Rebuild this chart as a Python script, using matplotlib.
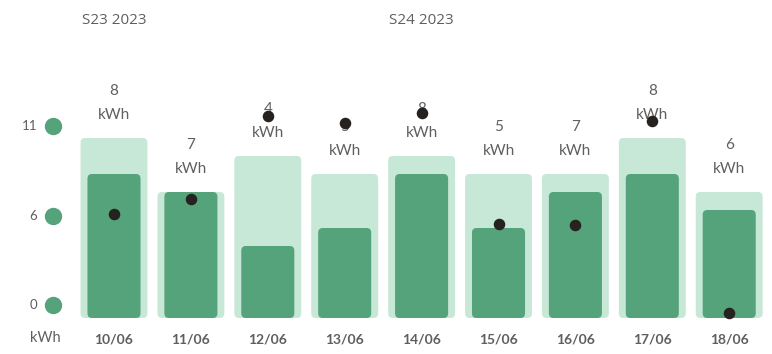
import numpy as np
import matplotlib.pyplot as plt
from matplotlib.patches import FancyBboxPatch

plt.rcParams['font.family'] = ['Lato', 'DejaVu Sans']

# data
days = ['10/06', '11/06', '12/06', '13/06', '14/06', '15/06', '16/06', '17/06', '18/06']
conso = [8, 7, 4, 5, 8, 5, 7, 8, 6]          # dark bars (kWh)
ref = [10, 7, 9, 8, 9, 8, 8, 10, 7]           # light background bars
points = [5.6, 6.5, 11.6, 11.2, 11.8, 5.0, 4.9, 11.3, -0.5]
axis_ticks = [0, 5.5, 11]
axis_labels = ['0', '6', '11']
weeks = ['S23 2023', 'S24 2023']

light = '#c8e8d7'
dark = '#55a37a'
grey = '#5f5f5f'

fig = plt.figure(figsize=(7.72, 3.54), dpi=100)
ax = fig.add_axes([0, 0, 1, 1])
ax.set_xlim(-114 / 76.9, (772 - 114) / 76.9)
ax.set_ylim(-36 / 18, 318 / 18)
ax.axis('off')

x = np.arange(len(days))
asp = 76.9 / 18


def rounded(bars, color, z):
    for b in bars:
        bx, by = b.get_xy()
        p = FancyBboxPatch((bx, by), b.get_width(), b.get_height(),
                           boxstyle='round,pad=0,rounding_size=0.06',
                           mutation_aspect=asp, fc=color, ec='none', zorder=z)
        ax.add_patch(p)
        b.remove()


rounded(ax.bar(x, ref, width=0.87), light, 1)
rounded(ax.bar(x, conso, width=0.69), dark, 2)

for i in range(len(days)):
    ax.text(x[i], ref[i] + 2.61, str(conso[i]), ha='center', va='center',
            fontsize=11, color=grey, zorder=3)
    ax.text(x[i], ref[i] + 1.28, 'kWh', ha='center', va='center',
            fontsize=11, color=grey, zorder=3)
    ax.text(x[i], -1.17, days[i], ha='center', va='center',
            fontsize=10, fontweight='bold', color=grey)

# second scale for the dots
ax2 = fig.add_axes([0, 0, 1, 1])
ax2.set_xlim(ax.get_xlim())
k = 179 / 11
ax2.set_ylim(-(354 - 305) / k, 305 / k)
ax2.axis('off')
ax2.plot(x, points, 'o', color='#252220', markersize=7.3, zorder=5)
ax2.plot([-0.793] * len(axis_ticks), axis_ticks, 'o', color=dark, markersize=11.5)
for t, lab in zip(axis_ticks, axis_labels):
    ax2.text(-1.0, t, lab, ha='right', va='center', fontsize=9.5, color=grey)
ax2.text(-0.89, -33 / k, 'kWh', ha='center', va='center', fontsize=10.5, color=grey)

fig.text(82 / 772, 1 - 21 / 354, weeks[0], ha='left', va='center',
         fontsize=11, color=grey, family=['Open Sans', 'DejaVu Sans'])
fig.text(389 / 772, 1 - 21 / 354, weeks[1], ha='left', va='center',
         fontsize=11, color=grey, family=['Open Sans', 'DejaVu Sans'])

fig.savefig('out.png', dpi=100)
